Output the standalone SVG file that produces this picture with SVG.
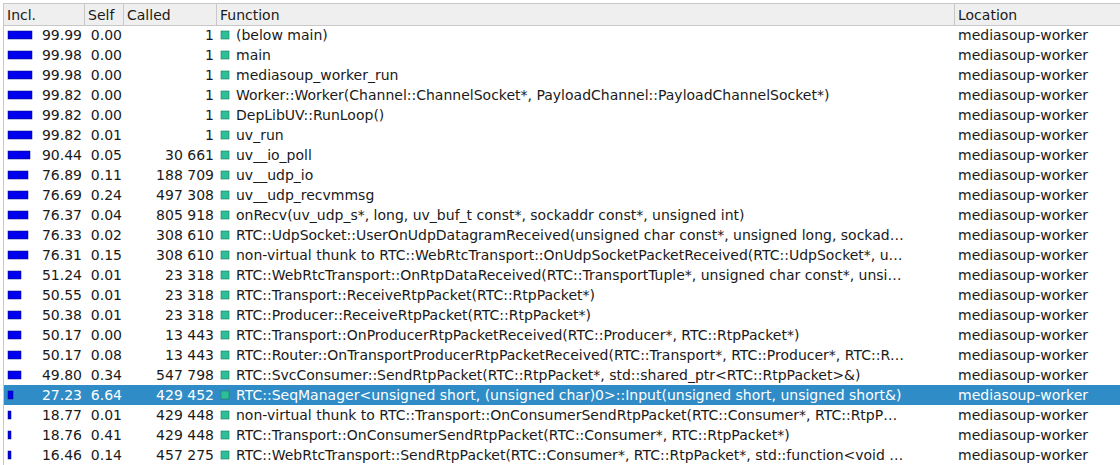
<svg xmlns="http://www.w3.org/2000/svg" width="1120" height="465" viewBox="0 0 1120 465">
<style>
text{font-family:"DejaVu Sans",sans-serif;font-size:14px;fill:#1a1a1a}
.n{text-anchor:end}
.bar{fill:#0000ee;stroke:#000080;stroke-width:0.5}
.sq{fill:#2ebf98;stroke:#1a7a60;stroke-width:0.6}
.sel text{fill:#ffffff}
.hd{stroke:#c8c8c8;stroke-width:1}
</style>
<rect width="1120" height="465" fill="#ffffff"/>
<g id="header">
<rect x="3" y="3" width="1117" height="22" fill="#efefef"/>
<line class="hd" x1="3" y1="25.5" x2="1120" y2="25.5"/>
<line class="hd" x1="3.5" y1="3" x2="3.5" y2="465"/>
<line class="hd" x1="3" y1="3.5" x2="1120" y2="3.5"/>
<line class="hd" x1="84.5" y1="4" x2="84.5" y2="25"/>
<line class="hd" x1="123.5" y1="4" x2="123.5" y2="25"/>
<line class="hd" x1="216.5" y1="4" x2="216.5" y2="25"/>
<line class="hd" x1="954.5" y1="4" x2="954.5" y2="25"/>
<text x="7" y="20">Incl.</text><text x="88" y="20">Self</text><text x="127" y="20">Called</text><text x="220" y="20">Function</text><text x="958" y="20">Location</text>
</g>
<rect x="4" y="385" width="1116" height="20" fill="#308cc6"/>
<g id="rows">
<g id="r0"><rect class="bar" x="8" y="31" width="24" height="8"/><text class="n" x="82" y="40">99.99</text><text class="n" x="122" y="40">0.00</text><text class="n" x="214" y="40">1</text><rect class="sq" x="221" y="31" width="8" height="8"/><text x="236" y="40">(below main)</text><text x="958" y="40">mediasoup-worker</text></g>
<g id="r1"><rect class="bar" x="8" y="51" width="24" height="8"/><text class="n" x="82" y="60">99.98</text><text class="n" x="122" y="60">0.00</text><text class="n" x="214" y="60">1</text><rect class="sq" x="221" y="51" width="8" height="8"/><text x="236" y="60">main</text><text x="958" y="60">mediasoup-worker</text></g>
<g id="r2"><rect class="bar" x="8" y="71" width="24" height="8"/><text class="n" x="82" y="80">99.98</text><text class="n" x="122" y="80">0.00</text><text class="n" x="214" y="80">1</text><rect class="sq" x="221" y="71" width="8" height="8"/><text x="236" y="80">mediasoup_worker_run</text><text x="958" y="80">mediasoup-worker</text></g>
<g id="r3"><rect class="bar" x="8" y="91" width="24" height="8"/><text class="n" x="82" y="100">99.82</text><text class="n" x="122" y="100">0.00</text><text class="n" x="214" y="100">1</text><rect class="sq" x="221" y="91" width="8" height="8"/><text x="236" y="100">Worker::Worker(Channel::ChannelSocket*, PayloadChannel::PayloadChannelSocket*)</text><text x="958" y="100">mediasoup-worker</text></g>
<g id="r4"><rect class="bar" x="8" y="111" width="24" height="8"/><text class="n" x="82" y="120">99.82</text><text class="n" x="122" y="120">0.00</text><text class="n" x="214" y="120">1</text><rect class="sq" x="221" y="111" width="8" height="8"/><text x="236" y="120">DepLibUV::RunLoop()</text><text x="958" y="120">mediasoup-worker</text></g>
<g id="r5"><rect class="bar" x="8" y="131" width="24" height="8"/><text class="n" x="82" y="140">99.82</text><text class="n" x="122" y="140">0.01</text><text class="n" x="214" y="140">1</text><rect class="sq" x="221" y="131" width="8" height="8"/><text x="236" y="140">uv_run</text><text x="958" y="140">mediasoup-worker</text></g>
<g id="r6"><rect class="bar" x="8" y="151" width="22" height="8"/><text class="n" x="82" y="160">90.44</text><text class="n" x="122" y="160">0.05</text><text class="n" x="214" y="160">30 661</text><rect class="sq" x="221" y="151" width="8" height="8"/><text x="236" y="160">uv__io_poll</text><text x="958" y="160">mediasoup-worker</text></g>
<g id="r7"><rect class="bar" x="8" y="171" width="20" height="8"/><text class="n" x="82" y="180">76.89</text><text class="n" x="122" y="180">0.11</text><text class="n" x="214" y="180">188 709</text><rect class="sq" x="221" y="171" width="8" height="8"/><text x="236" y="180">uv__udp_io</text><text x="958" y="180">mediasoup-worker</text></g>
<g id="r8"><rect class="bar" x="8" y="191" width="20" height="8"/><text class="n" x="82" y="200">76.69</text><text class="n" x="122" y="200">0.24</text><text class="n" x="214" y="200">497 308</text><rect class="sq" x="221" y="191" width="8" height="8"/><text x="236" y="200">uv__udp_recvmmsg</text><text x="958" y="200">mediasoup-worker</text></g>
<g id="r9"><rect class="bar" x="8" y="211" width="20" height="8"/><text class="n" x="82" y="220">76.37</text><text class="n" x="122" y="220">0.04</text><text class="n" x="214" y="220">805 918</text><rect class="sq" x="221" y="211" width="8" height="8"/><text x="236" y="220">onRecv(uv_udp_s*, long, uv_buf_t const*, sockaddr const*, unsigned int)</text><text x="958" y="220">mediasoup-worker</text></g>
<g id="r10"><rect class="bar" x="8" y="231" width="20" height="8"/><text class="n" x="82" y="240">76.33</text><text class="n" x="122" y="240">0.02</text><text class="n" x="214" y="240">308 610</text><rect class="sq" x="221" y="231" width="8" height="8"/><text x="236" y="240">RTC::UdpSocket::UserOnUdpDatagramReceived(unsigned char const*, unsigned long, sockad…</text><text x="958" y="240">mediasoup-worker</text></g>
<g id="r11"><rect class="bar" x="8" y="251" width="20" height="8"/><text class="n" x="82" y="260">76.31</text><text class="n" x="122" y="260">0.15</text><text class="n" x="214" y="260">308 610</text><rect class="sq" x="221" y="251" width="8" height="8"/><text x="236" y="260">non-virtual thunk to RTC::WebRtcTransport::OnUdpSocketPacketReceived(RTC::UdpSocket*, u…</text><text x="958" y="260">mediasoup-worker</text></g>
<g id="r12"><rect class="bar" x="8" y="271" width="13" height="8"/><text class="n" x="82" y="280">51.24</text><text class="n" x="122" y="280">0.01</text><text class="n" x="214" y="280">23 318</text><rect class="sq" x="221" y="271" width="8" height="8"/><text x="236" y="280">RTC::WebRtcTransport::OnRtpDataReceived(RTC::TransportTuple*, unsigned char const*, unsi…</text><text x="958" y="280">mediasoup-worker</text></g>
<g id="r13"><rect class="bar" x="8" y="291" width="13" height="8"/><text class="n" x="82" y="300">50.55</text><text class="n" x="122" y="300">0.01</text><text class="n" x="214" y="300">23 318</text><rect class="sq" x="221" y="291" width="8" height="8"/><text x="236" y="300">RTC::Transport::ReceiveRtpPacket(RTC::RtpPacket*)</text><text x="958" y="300">mediasoup-worker</text></g>
<g id="r14"><rect class="bar" x="8" y="311" width="13" height="8"/><text class="n" x="82" y="320">50.38</text><text class="n" x="122" y="320">0.01</text><text class="n" x="214" y="320">23 318</text><rect class="sq" x="221" y="311" width="8" height="8"/><text x="236" y="320">RTC::Producer::ReceiveRtpPacket(RTC::RtpPacket*)</text><text x="958" y="320">mediasoup-worker</text></g>
<g id="r15"><rect class="bar" x="8" y="331" width="13" height="8"/><text class="n" x="82" y="340">50.17</text><text class="n" x="122" y="340">0.00</text><text class="n" x="214" y="340">13 443</text><rect class="sq" x="221" y="331" width="8" height="8"/><text x="236" y="340">RTC::Transport::OnProducerRtpPacketReceived(RTC::Producer*, RTC::RtpPacket*)</text><text x="958" y="340">mediasoup-worker</text></g>
<g id="r16"><rect class="bar" x="8" y="351" width="13" height="8"/><text class="n" x="82" y="360">50.17</text><text class="n" x="122" y="360">0.08</text><text class="n" x="214" y="360">13 443</text><rect class="sq" x="221" y="351" width="8" height="8"/><text x="236" y="360">RTC::Router::OnTransportProducerRtpPacketReceived(RTC::Transport*, RTC::Producer*, RTC::R…</text><text x="958" y="360">mediasoup-worker</text></g>
<g id="r17"><rect class="bar" x="8" y="371" width="13" height="8"/><text class="n" x="82" y="380">49.80</text><text class="n" x="122" y="380">0.34</text><text class="n" x="214" y="380">547 798</text><rect class="sq" x="221" y="371" width="8" height="8"/><text x="236" y="380">RTC::SvcConsumer::SendRtpPacket(RTC::RtpPacket*, std::shared_ptr&lt;RTC::RtpPacket&gt;&amp;)</text><text x="958" y="380">mediasoup-worker</text></g>
<g id="r18" class="sel"><rect class="bar" x="8" y="391" width="5" height="8"/><text class="n" x="82" y="400">27.23</text><text class="n" x="122" y="400">6.64</text><text class="n" x="214" y="400">429 452</text><rect class="sq" x="221" y="391" width="8" height="8"/><text x="236" y="400">RTC::SeqManager&lt;unsigned short, (unsigned char)0&gt;::Input(unsigned short, unsigned short&amp;)</text><text x="958" y="400">mediasoup-worker</text></g>
<g id="r19"><rect class="bar" x="8" y="411" width="3" height="8"/><text class="n" x="82" y="420">18.77</text><text class="n" x="122" y="420">0.01</text><text class="n" x="214" y="420">429 448</text><rect class="sq" x="221" y="411" width="8" height="8"/><text x="236" y="420">non-virtual thunk to RTC::Transport::OnConsumerSendRtpPacket(RTC::Consumer*, RTC::RtpP…</text><text x="958" y="420">mediasoup-worker</text></g>
<g id="r20"><rect class="bar" x="8" y="431" width="3" height="8"/><text class="n" x="82" y="440">18.76</text><text class="n" x="122" y="440">0.41</text><text class="n" x="214" y="440">429 448</text><rect class="sq" x="221" y="431" width="8" height="8"/><text x="236" y="440">RTC::Transport::OnConsumerSendRtpPacket(RTC::Consumer*, RTC::RtpPacket*)</text><text x="958" y="440">mediasoup-worker</text></g>
<g id="r21"><rect class="bar" x="8" y="451" width="3" height="8"/><text class="n" x="82" y="460">16.46</text><text class="n" x="122" y="460">0.14</text><text class="n" x="214" y="460">457 275</text><rect class="sq" x="221" y="451" width="8" height="8"/><text x="236" y="460">RTC::WebRtcTransport::SendRtpPacket(RTC::Consumer*, RTC::RtpPacket*, std::function&lt;void …</text><text x="958" y="460">mediasoup-worker</text></g>
</g>
<g id="connectors"/>
</svg>
